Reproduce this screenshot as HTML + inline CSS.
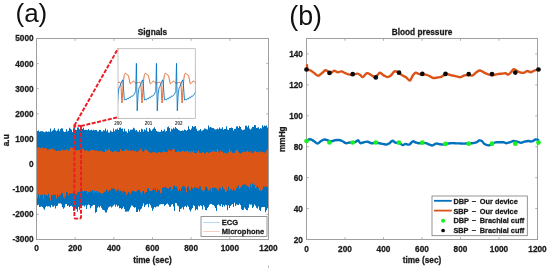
<!DOCTYPE html>
<html><head><meta charset="utf-8"><title>Signals and blood pressure</title>
<style>html,body{margin:0;padding:0;background:#fff}body{width:550px;height:268px;overflow:hidden}svg{display:block}</style>
</head><body>
<svg width="550" height="268" viewBox="0 0 550 268" font-family="'Liberation Sans', Arial, sans-serif">
<path d="M36.50 239.5v-2.3M36.50 38.5v2.3" stroke="#a0a0a0" stroke-width="0.8"/>
<text x="36.50" y="251.30" text-anchor="middle" font-size="8.25" font-weight="bold" fill="#1a1a1a" stroke="#1a1a1a" stroke-width="0.28" >0</text>
<path d="M75.17 239.5v-2.3M75.17 38.5v2.3" stroke="#a0a0a0" stroke-width="0.8"/>
<text x="75.17" y="251.30" text-anchor="middle" font-size="8.25" font-weight="bold" fill="#1a1a1a" stroke="#1a1a1a" stroke-width="0.28" >200</text>
<path d="M113.83 239.5v-2.3M113.83 38.5v2.3" stroke="#a0a0a0" stroke-width="0.8"/>
<text x="113.83" y="251.30" text-anchor="middle" font-size="8.25" font-weight="bold" fill="#1a1a1a" stroke="#1a1a1a" stroke-width="0.28" >400</text>
<path d="M152.50 239.5v-2.3M152.50 38.5v2.3" stroke="#a0a0a0" stroke-width="0.8"/>
<text x="152.50" y="251.30" text-anchor="middle" font-size="8.25" font-weight="bold" fill="#1a1a1a" stroke="#1a1a1a" stroke-width="0.28" >600</text>
<path d="M191.17 239.5v-2.3M191.17 38.5v2.3" stroke="#a0a0a0" stroke-width="0.8"/>
<text x="191.17" y="251.30" text-anchor="middle" font-size="8.25" font-weight="bold" fill="#1a1a1a" stroke="#1a1a1a" stroke-width="0.28" >800</text>
<path d="M229.83 239.5v-2.3M229.83 38.5v2.3" stroke="#a0a0a0" stroke-width="0.8"/>
<text x="229.83" y="251.30" text-anchor="middle" font-size="8.25" font-weight="bold" fill="#1a1a1a" stroke="#1a1a1a" stroke-width="0.28" >1000</text>
<path d="M268.50 239.5v-2.3M268.50 38.5v2.3" stroke="#a0a0a0" stroke-width="0.8"/>
<text x="268.50" y="251.30" text-anchor="middle" font-size="8.25" font-weight="bold" fill="#1a1a1a" stroke="#1a1a1a" stroke-width="0.28" >1200</text>
<path d="M36.5 239.50h2.3M268.5 239.50h-2.3" stroke="#a0a0a0" stroke-width="0.8"/>
<text x="33.60" y="242.40" text-anchor="end" font-size="8.25" font-weight="bold" fill="#1a1a1a" stroke="#1a1a1a" stroke-width="0.28" >-3000</text>
<path d="M36.5 214.38h2.3M268.5 214.38h-2.3" stroke="#a0a0a0" stroke-width="0.8"/>
<text x="33.60" y="217.28" text-anchor="end" font-size="8.25" font-weight="bold" fill="#1a1a1a" stroke="#1a1a1a" stroke-width="0.28" >-2000</text>
<path d="M36.5 189.25h2.3M268.5 189.25h-2.3" stroke="#a0a0a0" stroke-width="0.8"/>
<text x="33.60" y="192.15" text-anchor="end" font-size="8.25" font-weight="bold" fill="#1a1a1a" stroke="#1a1a1a" stroke-width="0.28" >-1000</text>
<path d="M36.5 164.12h2.3M268.5 164.12h-2.3" stroke="#a0a0a0" stroke-width="0.8"/>
<text x="33.60" y="167.03" text-anchor="end" font-size="8.25" font-weight="bold" fill="#1a1a1a" stroke="#1a1a1a" stroke-width="0.28" >0</text>
<path d="M36.5 139.00h2.3M268.5 139.00h-2.3" stroke="#a0a0a0" stroke-width="0.8"/>
<text x="33.60" y="141.90" text-anchor="end" font-size="8.25" font-weight="bold" fill="#1a1a1a" stroke="#1a1a1a" stroke-width="0.28" >1000</text>
<path d="M36.5 113.88h2.3M268.5 113.88h-2.3" stroke="#a0a0a0" stroke-width="0.8"/>
<text x="33.60" y="116.78" text-anchor="end" font-size="8.25" font-weight="bold" fill="#1a1a1a" stroke="#1a1a1a" stroke-width="0.28" >2000</text>
<path d="M36.5 88.75h2.3M268.5 88.75h-2.3" stroke="#a0a0a0" stroke-width="0.8"/>
<text x="33.60" y="91.65" text-anchor="end" font-size="8.25" font-weight="bold" fill="#1a1a1a" stroke="#1a1a1a" stroke-width="0.28" >3000</text>
<path d="M36.5 63.62h2.3M268.5 63.62h-2.3" stroke="#a0a0a0" stroke-width="0.8"/>
<text x="33.60" y="66.53" text-anchor="end" font-size="8.25" font-weight="bold" fill="#1a1a1a" stroke="#1a1a1a" stroke-width="0.28" >4000</text>
<path d="M36.5 38.50h2.3M268.5 38.50h-2.3" stroke="#a0a0a0" stroke-width="0.8"/>
<text x="33.60" y="41.40" text-anchor="end" font-size="8.25" font-weight="bold" fill="#1a1a1a" stroke="#1a1a1a" stroke-width="0.28" >5000</text>
<filter id="bl" x="-2%" y="-10%" width="104%" height="120%"><feGaussianBlur stdDeviation="0.42"/></filter>
<clipPath id="ac"><rect x="37.0" y="38.5" width="231.0" height="201.0"/></clipPath>
<g clip-path="url(#ac)"><g filter="url(#bl)">
<polygon fill="#0072BD" points="34.5,165.0 34.5,131.0 38.0,131.0 38.0,130.6 39.0,130.6 39.0,131.8 40.0,131.8 40.0,131.3 41.0,131.3 41.0,131.3 42.0,131.3 42.0,131.3 43.0,131.3 43.0,131.8 44.0,131.8 44.0,132.2 45.0,132.2 45.0,131.7 46.0,131.7 46.0,131.2 47.0,131.2 47.0,132.1 48.0,132.1 48.0,131.6 49.0,131.6 49.0,131.8 50.0,131.8 50.0,128.5 51.0,128.5 51.0,131.6 52.0,131.6 52.0,130.8 53.0,130.8 53.0,129.7 54.0,129.7 54.0,128.3 55.0,128.3 55.0,130.3 56.0,130.3 56.0,131.3 57.0,131.3 57.0,130.2 58.0,130.2 58.0,128.7 59.0,128.7 59.0,131.2 60.0,131.2 60.0,129.2 61.0,129.2 61.0,128.3 62.0,128.3 62.0,128.5 63.0,128.5 63.0,131.2 64.0,131.2 64.0,132.0 65.0,132.0 65.0,131.7 66.0,131.7 66.0,129.3 67.0,129.3 67.0,131.5 68.0,131.5 68.0,130.7 69.0,130.7 69.0,127.7 70.0,127.7 70.0,128.7 71.0,128.7 71.0,129.7 72.0,129.7 72.0,131.9 73.0,131.9 73.0,128.2 74.0,128.2 74.0,127.6 75.0,127.6 75.0,129.8 76.0,129.8 76.0,130.0 77.0,130.0 77.0,127.6 78.0,127.6 78.0,127.6 79.0,127.6 79.0,129.2 80.0,129.2 80.0,129.2 81.0,129.2 81.0,130.4 82.0,130.4 82.0,129.0 83.0,129.0 83.0,127.7 84.0,127.7 84.0,130.0 85.0,130.0 85.0,129.8 86.0,129.8 86.0,129.7 87.0,129.7 87.0,130.3 88.0,130.3 88.0,129.1 89.0,129.1 89.0,130.3 90.0,130.3 90.0,130.2 91.0,130.2 91.0,129.8 92.0,129.8 92.0,130.6 93.0,130.6 93.0,129.7 94.0,129.7 94.0,130.2 95.0,130.2 95.0,129.9 96.0,129.9 96.0,130.1 97.0,130.1 97.0,131.6 98.0,131.6 98.0,131.2 99.0,131.2 99.0,129.7 100.0,129.7 100.0,129.9 101.0,129.9 101.0,131.4 102.0,131.4 102.0,131.4 103.0,131.4 103.0,130.3 104.0,130.3 104.0,130.5 105.0,130.5 105.0,128.4 106.0,128.4 106.0,131.3 107.0,131.3 107.0,129.8 108.0,129.8 108.0,132.6 109.0,132.6 109.0,132.5 110.0,132.5 110.0,130.6 111.0,130.6 111.0,131.6 112.0,131.6 112.0,131.9 113.0,131.9 113.0,128.5 114.0,128.5 114.0,131.2 115.0,131.2 115.0,129.6 116.0,129.6 116.0,129.5 117.0,129.5 117.0,128.6 118.0,128.6 118.0,130.0 119.0,130.0 119.0,127.7 120.0,127.7 120.0,127.5 121.0,127.5 121.0,128.9 122.0,128.9 122.0,128.5 123.0,128.5 123.0,131.5 124.0,131.5 124.0,128.8 125.0,128.8 125.0,131.3 126.0,131.3 126.0,131.5 127.0,131.5 127.0,132.7 128.0,132.7 128.0,129.3 129.0,129.3 129.0,131.2 130.0,131.2 130.0,129.8 131.0,129.8 131.0,129.7 132.0,129.7 132.0,129.6 133.0,129.6 133.0,127.7 134.0,127.7 134.0,128.4 135.0,128.4 135.0,130.4 136.0,130.4 136.0,130.1 137.0,130.1 137.0,131.5 138.0,131.5 138.0,131.7 139.0,131.7 139.0,130.0 140.0,130.0 140.0,132.1 141.0,132.1 141.0,128.7 142.0,128.7 142.0,129.4 143.0,129.4 143.0,131.6 144.0,131.6 144.0,129.2 145.0,129.2 145.0,130.3 146.0,130.3 146.0,127.8 147.0,127.8 147.0,131.3 148.0,131.3 148.0,131.8 149.0,131.8 149.0,128.1 150.0,128.1 150.0,129.4 151.0,129.4 151.0,131.0 152.0,131.0 152.0,129.5 153.0,129.5 153.0,128.6 154.0,128.6 154.0,127.3 155.0,127.3 155.0,129.1 156.0,129.1 156.0,131.1 157.0,131.1 157.0,131.5 158.0,131.5 158.0,131.8 159.0,131.8 159.0,132.1 160.0,132.1 160.0,131.8 161.0,131.8 161.0,129.7 162.0,129.7 162.0,131.3 163.0,131.3 163.0,130.8 164.0,130.8 164.0,129.3 165.0,129.3 165.0,131.4 166.0,131.4 166.0,131.1 167.0,131.1 167.0,127.3 168.0,127.3 168.0,126.5 169.0,126.5 169.0,127.9 170.0,127.9 170.0,131.6 171.0,131.6 171.0,128.7 172.0,128.7 172.0,129.6 173.0,129.6 173.0,127.8 174.0,127.8 174.0,128.7 175.0,128.7 175.0,127.1 176.0,127.1 176.0,128.2 177.0,128.2 177.0,128.9 178.0,128.9 178.0,129.9 179.0,129.9 179.0,130.6 180.0,130.6 180.0,131.1 181.0,131.1 181.0,131.0 182.0,131.0 182.0,130.6 183.0,130.6 183.0,130.7 184.0,130.7 184.0,129.5 185.0,129.5 185.0,129.9 186.0,129.9 186.0,130.8 187.0,130.8 187.0,130.1 188.0,130.1 188.0,126.2 189.0,126.2 189.0,129.0 190.0,129.0 190.0,129.9 191.0,129.9 191.0,128.4 192.0,128.4 192.0,126.0 193.0,126.0 193.0,127.1 194.0,127.1 194.0,126.6 195.0,126.6 195.0,125.9 196.0,125.9 196.0,128.7 197.0,128.7 197.0,130.9 198.0,130.9 198.0,130.6 199.0,130.6 199.0,130.2 200.0,130.2 200.0,129.0 201.0,129.0 201.0,130.7 202.0,130.7 202.0,130.4 203.0,130.4 203.0,129.8 204.0,129.8 204.0,128.4 205.0,128.4 205.0,128.7 206.0,128.7 206.0,129.3 207.0,129.3 207.0,129.6 208.0,129.6 208.0,125.6 209.0,125.6 209.0,127.4 210.0,127.4 210.0,127.0 211.0,127.0 211.0,127.5 212.0,127.5 212.0,127.9 213.0,127.9 213.0,128.1 214.0,128.1 214.0,128.9 215.0,128.9 215.0,129.5 216.0,129.5 216.0,129.3 217.0,129.3 217.0,128.4 218.0,128.4 218.0,129.2 219.0,129.2 219.0,127.4 220.0,127.4 220.0,128.7 221.0,128.7 221.0,128.7 222.0,128.7 222.0,127.3 223.0,127.3 223.0,129.7 224.0,129.7 224.0,129.1 225.0,129.1 225.0,128.9 226.0,128.9 226.0,126.2 227.0,126.2 227.0,129.4 228.0,129.4 228.0,130.0 229.0,130.0 229.0,128.1 230.0,128.1 230.0,128.0 231.0,128.0 231.0,127.6 232.0,127.6 232.0,127.9 233.0,127.9 233.0,130.4 234.0,130.4 234.0,129.0 235.0,129.0 235.0,128.7 236.0,128.7 236.0,126.5 237.0,126.5 237.0,126.2 238.0,126.2 238.0,127.9 239.0,127.9 239.0,126.1 240.0,126.1 240.0,127.0 241.0,127.0 241.0,129.3 242.0,129.3 242.0,130.2 243.0,130.2 243.0,129.8 244.0,129.8 244.0,129.5 245.0,129.5 245.0,125.8 246.0,125.8 246.0,125.8 247.0,125.8 247.0,127.2 248.0,127.2 248.0,125.4 249.0,125.4 249.0,128.6 250.0,128.6 250.0,129.4 251.0,129.4 251.0,128.4 252.0,128.4 252.0,126.7 253.0,126.7 253.0,127.1 254.0,127.1 254.0,125.1 255.0,125.1 255.0,125.2 256.0,125.2 256.0,128.0 257.0,128.0 257.0,127.7 258.0,127.7 258.0,127.3 259.0,127.3 259.0,128.9 260.0,128.9 260.0,127.9 261.0,127.9 261.0,128.6 262.0,128.6 262.0,125.3 263.0,125.3 263.0,126.8 264.0,126.8 264.0,125.5 265.0,125.5 265.0,125.9 266.0,125.9 266.0,125.6 267.0,125.6 267.0,127.5 268.0,127.5 270.5,165.0 268.0,208.2 267.0,208.2 267.0,210.3 266.0,210.3 266.0,212.3 265.0,212.3 265.0,207.0 264.0,207.0 264.0,206.9 263.0,206.9 263.0,207.1 262.0,207.1 262.0,207.6 261.0,207.6 261.0,210.9 260.0,210.9 260.0,209.8 259.0,209.8 259.0,206.5 258.0,206.5 258.0,208.5 257.0,208.5 257.0,207.8 256.0,207.8 256.0,205.7 255.0,205.7 255.0,204.6 254.0,204.6 254.0,206.8 253.0,206.8 253.0,207.9 252.0,207.9 252.0,204.6 251.0,204.6 251.0,204.7 250.0,204.7 250.0,204.3 249.0,204.3 249.0,207.7 248.0,207.7 248.0,210.3 247.0,210.3 247.0,209.9 246.0,209.9 246.0,208.8 245.0,208.8 245.0,207.4 244.0,207.4 244.0,209.8 243.0,209.8 243.0,210.1 242.0,210.1 242.0,209.3 241.0,209.3 241.0,205.0 240.0,205.0 240.0,203.7 239.0,203.7 239.0,205.1 238.0,205.1 238.0,204.8 237.0,204.8 237.0,204.6 236.0,204.6 236.0,206.0 235.0,206.0 235.0,202.8 234.0,202.8 234.0,207.0 233.0,207.0 233.0,204.1 232.0,204.1 232.0,204.7 231.0,204.7 231.0,206.1 230.0,206.1 230.0,207.9 229.0,207.9 229.0,205.3 228.0,205.3 228.0,210.3 227.0,210.3 227.0,205.2 226.0,205.2 226.0,204.8 225.0,204.8 225.0,206.6 224.0,206.6 224.0,204.9 223.0,204.9 223.0,207.0 222.0,207.0 222.0,204.1 221.0,204.1 221.0,206.3 220.0,206.3 220.0,205.6 219.0,205.6 219.0,204.4 218.0,204.4 218.0,205.0 217.0,205.0 217.0,211.1 216.0,211.1 216.0,208.0 215.0,208.0 215.0,206.3 214.0,206.3 214.0,205.0 213.0,205.0 213.0,204.7 212.0,204.7 212.0,204.1 211.0,204.1 211.0,204.1 210.0,204.1 210.0,204.7 209.0,204.7 209.0,206.8 208.0,206.8 208.0,208.0 207.0,208.0 207.0,210.2 206.0,210.2 206.0,209.9 205.0,209.9 205.0,206.8 204.0,206.8 204.0,205.3 203.0,205.3 203.0,209.5 202.0,209.5 202.0,206.1 201.0,206.1 201.0,205.2 200.0,205.2 200.0,206.4 199.0,206.4 199.0,205.7 198.0,205.7 198.0,209.8 197.0,209.8 197.0,209.0 196.0,209.0 196.0,210.3 195.0,210.3 195.0,206.1 194.0,206.1 194.0,205.2 193.0,205.2 193.0,208.1 192.0,208.1 192.0,209.6 191.0,209.6 191.0,211.5 190.0,211.5 190.0,209.7 189.0,209.7 189.0,206.8 188.0,206.8 188.0,205.5 187.0,205.5 187.0,207.2 186.0,207.2 186.0,205.9 185.0,205.9 185.0,206.7 184.0,206.7 184.0,209.5 183.0,209.5 183.0,207.3 182.0,207.3 182.0,208.4 181.0,208.4 181.0,208.9 180.0,208.9 180.0,211.7 179.0,211.7 179.0,206.2 178.0,206.2 178.0,205.5 177.0,205.5 177.0,203.2 176.0,203.2 176.0,202.9 175.0,202.9 175.0,210.9 174.0,210.9 174.0,206.4 173.0,206.4 173.0,204.0 172.0,204.0 172.0,204.7 171.0,204.7 171.0,206.8 170.0,206.8 170.0,206.7 169.0,206.7 169.0,204.7 168.0,204.7 168.0,203.5 167.0,203.5 167.0,204.0 166.0,204.0 166.0,204.9 165.0,204.9 165.0,205.9 164.0,205.9 164.0,204.1 163.0,204.1 163.0,204.3 162.0,204.3 162.0,204.0 161.0,204.0 161.0,204.2 160.0,204.2 160.0,204.7 159.0,204.7 159.0,206.5 158.0,206.5 158.0,206.4 157.0,206.4 157.0,206.4 156.0,206.4 156.0,207.4 155.0,207.4 155.0,206.9 154.0,206.9 154.0,208.8 153.0,208.8 153.0,210.7 152.0,210.7 152.0,207.8 151.0,207.8 151.0,205.3 150.0,205.3 150.0,203.7 149.0,203.7 149.0,207.3 148.0,207.3 148.0,203.9 147.0,203.9 147.0,204.4 146.0,204.4 146.0,205.2 145.0,205.2 145.0,207.0 144.0,207.0 144.0,203.4 143.0,203.4 143.0,205.9 142.0,205.9 142.0,208.4 141.0,208.4 141.0,209.5 140.0,209.5 140.0,211.6 139.0,211.6 139.0,209.6 138.0,209.6 138.0,211.9 137.0,211.9 137.0,211.9 136.0,211.9 136.0,207.3 135.0,207.3 135.0,207.8 134.0,207.8 134.0,207.1 133.0,207.1 133.0,205.8 132.0,205.8 132.0,205.5 131.0,205.5 131.0,207.4 130.0,207.4 130.0,209.8 129.0,209.8 129.0,211.5 128.0,211.5 128.0,211.6 127.0,211.6 127.0,211.6 126.0,211.6 126.0,211.8 125.0,211.8 125.0,209.0 124.0,209.0 124.0,206.7 123.0,206.7 123.0,208.3 122.0,208.3 122.0,209.3 121.0,209.3 121.0,208.1 120.0,208.1 120.0,208.2 119.0,208.2 119.0,205.8 118.0,205.8 118.0,206.6 117.0,206.6 117.0,204.7 116.0,204.7 116.0,206.7 115.0,206.7 115.0,204.5 114.0,204.5 114.0,205.6 113.0,205.6 113.0,206.6 112.0,206.6 112.0,207.6 111.0,207.6 111.0,206.3 110.0,206.3 110.0,206.7 109.0,206.7 109.0,207.6 108.0,207.6 108.0,209.7 107.0,209.7 107.0,212.5 106.0,212.5 106.0,212.6 105.0,212.6 105.0,210.6 104.0,210.6 104.0,210.0 103.0,210.0 103.0,209.5 102.0,209.5 102.0,207.7 101.0,207.7 101.0,206.1 100.0,206.1 100.0,207.5 99.0,207.5 99.0,206.6 98.0,206.6 98.0,207.7 97.0,207.7 97.0,211.9 96.0,211.9 96.0,212.7 95.0,212.7 95.0,205.1 94.0,205.1 94.0,205.1 93.0,205.1 93.0,205.7 92.0,205.7 92.0,206.4 91.0,206.4 91.0,208.2 90.0,208.2 90.0,205.2 89.0,205.2 89.0,204.6 88.0,204.6 88.0,205.3 87.0,205.3 87.0,209.0 86.0,209.0 86.0,205.2 85.0,205.2 85.0,206.6 84.0,206.6 84.0,205.6 83.0,205.6 83.0,205.7 82.0,205.7 82.0,206.4 81.0,206.4 81.0,206.6 80.0,206.6 80.0,209.7 79.0,209.7 79.0,207.1 78.0,207.1 78.0,211.8 77.0,211.8 77.0,209.2 76.0,209.2 76.0,208.5 75.0,208.5 75.0,210.4 74.0,210.4 74.0,210.9 73.0,210.9 73.0,206.7 72.0,206.7 72.0,205.8 71.0,205.8 71.0,206.1 70.0,206.1 70.0,206.9 69.0,206.9 69.0,205.6 68.0,205.6 68.0,205.9 67.0,205.9 67.0,204.0 66.0,204.0 66.0,204.3 65.0,204.3 65.0,207.6 64.0,207.6 64.0,208.7 63.0,208.7 63.0,207.2 62.0,207.2 62.0,204.2 61.0,204.2 61.0,203.3 60.0,203.3 60.0,203.6 59.0,203.6 59.0,203.6 58.0,203.6 58.0,205.8 57.0,205.8 57.0,205.9 56.0,205.9 56.0,208.6 55.0,208.6 55.0,205.5 54.0,205.5 54.0,206.8 53.0,206.8 53.0,206.4 52.0,206.4 52.0,205.1 51.0,205.1 51.0,207.4 50.0,207.4 50.0,206.5 49.0,206.5 49.0,206.3 48.0,206.3 48.0,206.4 47.0,206.4 47.0,206.0 46.0,206.0 46.0,207.2 45.0,207.2 45.0,209.8 44.0,209.8 44.0,208.6 43.0,208.6 43.0,207.0 42.0,207.0 42.0,206.5 41.0,206.5 41.0,206.8 40.0,206.8 40.0,207.0 39.0,207.0 39.0,204.8 38.0,204.8 38.0,205.2 37.0,205.2"/>
<polygon fill="#DB5417" points="34.5,170.0 37.0,148.0 38.0,148.0 38.0,147.2 39.0,147.2 39.0,147.6 40.0,147.6 40.0,148.2 41.0,148.2 41.0,147.6 42.0,147.6 42.0,147.6 43.0,147.6 43.0,148.9 44.0,148.9 44.0,147.9 45.0,147.9 45.0,147.9 46.0,147.9 46.0,148.5 47.0,148.5 47.0,149.8 48.0,149.8 48.0,149.4 49.0,149.4 49.0,149.0 50.0,149.0 50.0,149.2 51.0,149.2 51.0,148.3 52.0,148.3 52.0,148.6 53.0,148.6 53.0,149.9 54.0,149.9 54.0,149.5 55.0,149.5 55.0,150.4 56.0,150.4 56.0,151.0 57.0,151.0 57.0,151.1 58.0,151.1 58.0,150.6 59.0,150.6 59.0,150.6 60.0,150.6 60.0,150.9 61.0,150.9 61.0,150.2 62.0,150.2 62.0,149.4 63.0,149.4 63.0,150.4 64.0,150.4 64.0,150.2 65.0,150.2 65.0,150.3 66.0,150.3 66.0,149.4 67.0,149.4 67.0,149.2 68.0,149.2 68.0,151.0 69.0,151.0 69.0,149.3 70.0,149.3 70.0,147.7 71.0,147.7 71.0,147.5 72.0,147.5 72.0,148.1 73.0,148.1 73.0,148.0 74.0,148.0 74.0,149.4 75.0,149.4 75.0,150.6 76.0,150.6 76.0,150.5 77.0,150.5 77.0,150.1 78.0,150.1 78.0,150.0 79.0,150.0 79.0,150.4 80.0,150.4 80.0,150.3 81.0,150.3 81.0,150.1 82.0,150.1 82.0,148.4 83.0,148.4 83.0,149.1 84.0,149.1 84.0,150.5 85.0,150.5 85.0,151.1 86.0,151.1 86.0,150.3 87.0,150.3 87.0,150.4 88.0,150.4 88.0,151.2 89.0,151.2 89.0,151.0 90.0,151.0 90.0,150.4 91.0,150.4 91.0,149.4 92.0,149.4 92.0,150.0 93.0,150.0 93.0,149.9 94.0,149.9 94.0,150.2 95.0,150.2 95.0,150.7 96.0,150.7 96.0,150.6 97.0,150.6 97.0,151.1 98.0,151.1 98.0,150.9 99.0,150.9 99.0,151.4 100.0,151.4 100.0,150.8 101.0,150.8 101.0,151.0 102.0,151.0 102.0,151.6 103.0,151.6 103.0,152.2 104.0,152.2 104.0,152.0 105.0,152.0 105.0,149.0 106.0,149.0 106.0,150.8 107.0,150.8 107.0,149.5 108.0,149.5 108.0,149.4 109.0,149.4 109.0,149.3 110.0,149.3 110.0,150.9 111.0,150.9 111.0,151.5 112.0,151.5 112.0,152.2 113.0,152.2 113.0,152.0 114.0,152.0 114.0,151.1 115.0,151.1 115.0,150.7 116.0,150.7 116.0,151.5 117.0,151.5 117.0,152.3 118.0,152.3 118.0,151.8 119.0,151.8 119.0,152.1 120.0,152.1 120.0,149.3 121.0,149.3 121.0,150.4 122.0,150.4 122.0,150.9 123.0,150.9 123.0,150.6 124.0,150.6 124.0,150.9 125.0,150.9 125.0,148.8 126.0,148.8 126.0,149.5 127.0,149.5 127.0,150.2 128.0,150.2 128.0,150.7 129.0,150.7 129.0,149.8 130.0,149.8 130.0,150.5 131.0,150.5 131.0,151.0 132.0,151.0 132.0,150.1 133.0,150.1 133.0,151.2 134.0,151.2 134.0,151.0 135.0,151.0 135.0,150.4 136.0,150.4 136.0,151.5 137.0,151.5 137.0,151.9 138.0,151.9 138.0,150.8 139.0,150.8 139.0,150.3 140.0,150.3 140.0,148.4 141.0,148.4 141.0,149.4 142.0,149.4 142.0,151.2 143.0,151.2 143.0,152.2 144.0,152.2 144.0,150.6 145.0,150.6 145.0,148.7 146.0,148.7 146.0,149.7 147.0,149.7 147.0,150.6 148.0,150.6 148.0,151.4 149.0,151.4 149.0,152.3 150.0,152.3 150.0,152.7 151.0,152.7 151.0,152.9 152.0,152.9 152.0,151.7 153.0,151.7 153.0,152.6 154.0,152.6 154.0,152.6 155.0,152.6 155.0,151.9 156.0,151.9 156.0,152.9 157.0,152.9 157.0,153.1 158.0,153.1 158.0,151.9 159.0,151.9 159.0,152.0 160.0,152.0 160.0,152.6 161.0,152.6 161.0,153.1 162.0,153.1 162.0,152.1 163.0,152.1 163.0,150.4 164.0,150.4 164.0,152.0 165.0,152.0 165.0,152.2 166.0,152.2 166.0,152.1 167.0,152.1 167.0,152.1 168.0,152.1 168.0,149.4 169.0,149.4 169.0,151.0 170.0,151.0 170.0,150.1 171.0,150.1 171.0,150.9 172.0,150.9 172.0,149.5 173.0,149.5 173.0,148.5 174.0,148.5 174.0,149.5 175.0,149.5 175.0,152.1 176.0,152.1 176.0,152.0 177.0,152.0 177.0,150.4 178.0,150.4 178.0,151.8 179.0,151.8 179.0,151.2 180.0,151.2 180.0,152.0 181.0,152.0 181.0,151.3 182.0,151.3 182.0,150.9 183.0,150.9 183.0,151.1 184.0,151.1 184.0,151.7 185.0,151.7 185.0,150.9 186.0,150.9 186.0,151.2 187.0,151.2 187.0,150.8 188.0,150.8 188.0,151.7 189.0,151.7 189.0,151.1 190.0,151.1 190.0,152.7 191.0,152.7 191.0,151.2 192.0,151.2 192.0,151.7 193.0,151.7 193.0,150.2 194.0,150.2 194.0,152.9 195.0,152.9 195.0,153.3 196.0,153.3 196.0,153.0 197.0,153.0 197.0,151.6 198.0,151.6 198.0,150.7 199.0,150.7 199.0,152.6 200.0,152.6 200.0,153.0 201.0,153.0 201.0,153.3 202.0,153.3 202.0,152.2 203.0,152.2 203.0,152.0 204.0,152.0 204.0,153.5 205.0,153.5 205.0,153.3 206.0,153.3 206.0,152.1 207.0,152.1 207.0,152.1 208.0,152.1 208.0,152.9 209.0,152.9 209.0,152.4 210.0,152.4 210.0,152.0 211.0,152.0 211.0,151.5 212.0,151.5 212.0,151.4 213.0,151.4 213.0,150.2 214.0,150.2 214.0,151.7 215.0,151.7 215.0,151.6 216.0,151.6 216.0,151.8 217.0,151.8 217.0,149.1 218.0,149.1 218.0,151.4 219.0,151.4 219.0,152.6 220.0,152.6 220.0,150.5 221.0,150.5 221.0,151.8 222.0,151.8 222.0,151.4 223.0,151.4 223.0,153.1 224.0,153.1 224.0,153.1 225.0,153.1 225.0,152.2 226.0,152.2 226.0,153.4 227.0,153.4 227.0,153.0 228.0,153.0 228.0,152.2 229.0,152.2 229.0,149.0 230.0,149.0 230.0,151.5 231.0,151.5 231.0,151.0 232.0,151.0 232.0,152.8 233.0,152.8 233.0,152.8 234.0,152.8 234.0,153.2 235.0,153.2 235.0,151.0 236.0,151.0 236.0,150.3 237.0,150.3 237.0,149.7 238.0,149.7 238.0,152.1 239.0,152.1 239.0,153.0 240.0,153.0 240.0,153.5 241.0,153.5 241.0,153.0 242.0,153.0 242.0,152.3 243.0,152.3 243.0,151.8 244.0,151.8 244.0,151.8 245.0,151.8 245.0,151.7 246.0,151.7 246.0,151.4 247.0,151.4 247.0,150.5 248.0,150.5 248.0,151.7 249.0,151.7 249.0,152.0 250.0,152.0 250.0,151.2 251.0,151.2 251.0,152.6 252.0,152.6 252.0,152.9 253.0,152.9 253.0,152.6 254.0,152.6 254.0,151.2 255.0,151.2 255.0,151.1 256.0,151.1 256.0,152.1 257.0,152.1 257.0,152.2 258.0,152.2 258.0,152.3 259.0,152.3 259.0,151.5 260.0,151.5 260.0,151.5 261.0,151.5 261.0,152.3 262.0,152.3 262.0,151.7 263.0,151.7 263.0,152.3 264.0,152.3 264.0,152.7 265.0,152.7 265.0,152.0 266.0,152.0 266.0,150.4 267.0,150.4 267.0,149.2 268.0,149.2 270.5,170.0 268.0,187.3 267.0,187.3 267.0,186.8 266.0,186.8 266.0,186.1 265.0,186.1 265.0,186.8 264.0,186.8 264.0,186.3 263.0,186.3 263.0,189.3 262.0,189.3 262.0,190.7 261.0,190.7 261.0,190.6 260.0,190.6 260.0,190.7 259.0,190.7 259.0,187.7 258.0,187.7 258.0,185.8 257.0,185.8 257.0,187.2 256.0,187.2 256.0,187.9 255.0,187.9 255.0,184.8 254.0,184.8 254.0,184.4 253.0,184.4 253.0,183.2 252.0,183.2 252.0,187.2 251.0,187.2 251.0,184.3 250.0,184.3 250.0,188.5 249.0,188.5 249.0,186.8 248.0,186.8 248.0,185.8 247.0,185.8 247.0,185.7 246.0,185.7 246.0,184.5 245.0,184.5 245.0,184.5 244.0,184.5 244.0,184.3 243.0,184.3 243.0,184.9 242.0,184.9 242.0,186.5 241.0,186.5 241.0,187.5 240.0,187.5 240.0,188.9 239.0,188.9 239.0,185.5 238.0,185.5 238.0,186.6 237.0,186.6 237.0,187.9 236.0,187.9 236.0,190.3 235.0,190.3 235.0,190.5 234.0,190.5 234.0,188.7 233.0,188.7 233.0,190.6 232.0,190.6 232.0,189.4 231.0,189.4 231.0,188.8 230.0,188.8 230.0,190.5 229.0,190.5 229.0,186.7 228.0,186.7 228.0,189.8 227.0,189.8 227.0,191.2 226.0,191.2 226.0,192.1 225.0,192.1 225.0,189.6 224.0,189.6 224.0,188.5 223.0,188.5 223.0,186.7 222.0,186.7 222.0,190.0 221.0,190.0 221.0,187.8 220.0,187.8 220.0,188.3 219.0,188.3 219.0,190.8 218.0,190.8 218.0,189.5 217.0,189.5 217.0,188.6 216.0,188.6 216.0,187.9 215.0,187.9 215.0,187.6 214.0,187.6 214.0,187.7 213.0,187.7 213.0,187.8 212.0,187.8 212.0,191.4 211.0,191.4 211.0,188.5 210.0,188.5 210.0,190.5 209.0,190.5 209.0,190.6 208.0,190.6 208.0,188.5 207.0,188.5 207.0,186.7 206.0,186.7 206.0,187.1 205.0,187.1 205.0,190.0 204.0,190.0 204.0,192.0 203.0,192.0 203.0,190.5 202.0,190.5 202.0,190.0 201.0,190.0 201.0,186.4 200.0,186.4 200.0,186.6 199.0,186.6 199.0,189.0 198.0,189.0 198.0,187.6 197.0,187.6 197.0,187.9 196.0,187.9 196.0,187.3 195.0,187.3 195.0,187.3 194.0,187.3 194.0,187.9 193.0,187.9 193.0,188.4 192.0,188.4 192.0,187.1 191.0,187.1 191.0,190.5 190.0,190.5 190.0,189.4 189.0,189.4 189.0,186.5 188.0,186.5 188.0,186.4 187.0,186.4 187.0,192.4 186.0,192.4 186.0,188.0 185.0,188.0 185.0,186.5 184.0,186.5 184.0,185.8 183.0,185.8 183.0,186.4 182.0,186.4 182.0,188.2 181.0,188.2 181.0,191.1 180.0,191.1 180.0,189.1 179.0,189.1 179.0,191.0 178.0,191.0 178.0,188.4 177.0,188.4 177.0,186.5 176.0,186.5 176.0,186.8 175.0,186.8 175.0,185.4 174.0,185.4 174.0,186.2 173.0,186.2 173.0,188.9 172.0,188.9 172.0,190.7 171.0,190.7 171.0,186.7 170.0,186.7 170.0,187.4 169.0,187.4 169.0,188.4 168.0,188.4 168.0,188.2 167.0,188.2 167.0,188.1 166.0,188.1 166.0,186.7 165.0,186.7 165.0,187.3 164.0,187.3 164.0,187.0 163.0,187.0 163.0,188.0 162.0,188.0 162.0,192.8 161.0,192.8 161.0,193.3 160.0,193.3 160.0,190.2 159.0,190.2 159.0,189.9 158.0,189.9 158.0,189.1 157.0,189.1 157.0,192.1 156.0,192.1 156.0,187.9 155.0,187.9 155.0,190.3 154.0,190.3 154.0,187.8 153.0,187.8 153.0,190.1 152.0,190.1 152.0,191.2 151.0,191.2 151.0,190.9 150.0,190.9 150.0,190.9 149.0,190.9 149.0,187.9 148.0,187.9 148.0,189.1 147.0,189.1 147.0,191.9 146.0,191.9 146.0,192.2 145.0,192.2 145.0,193.6 144.0,193.6 144.0,191.0 143.0,191.0 143.0,191.1 142.0,191.1 142.0,194.3 141.0,194.3 141.0,192.2 140.0,192.2 140.0,189.8 139.0,189.8 139.0,189.9 138.0,189.9 138.0,190.4 137.0,190.4 137.0,191.5 136.0,191.5 136.0,192.0 135.0,192.0 135.0,191.2 134.0,191.2 134.0,191.3 133.0,191.3 133.0,190.7 132.0,190.7 132.0,191.6 131.0,191.6 131.0,194.2 130.0,194.2 130.0,192.4 129.0,192.4 129.0,192.1 128.0,192.1 128.0,193.3 127.0,193.3 127.0,195.1 126.0,195.1 126.0,191.7 125.0,191.7 125.0,191.8 124.0,191.8 124.0,190.5 123.0,190.5 123.0,192.5 122.0,192.5 122.0,191.1 121.0,191.1 121.0,190.8 120.0,190.8 120.0,191.3 119.0,191.3 119.0,189.5 118.0,189.5 118.0,189.5 117.0,189.5 117.0,191.6 116.0,191.6 116.0,189.7 115.0,189.7 115.0,189.2 114.0,189.2 114.0,188.0 113.0,188.0 113.0,188.4 112.0,188.4 112.0,188.3 111.0,188.3 111.0,190.2 110.0,190.2 110.0,189.9 109.0,189.9 109.0,191.7 108.0,191.7 108.0,190.6 107.0,190.6 107.0,189.5 106.0,189.5 106.0,191.4 105.0,191.4 105.0,191.7 104.0,191.7 104.0,192.7 103.0,192.7 103.0,193.5 102.0,193.5 102.0,193.7 101.0,193.7 101.0,193.0 100.0,193.0 100.0,192.4 99.0,192.4 99.0,191.7 98.0,191.7 98.0,193.6 97.0,193.6 97.0,191.1 96.0,191.1 96.0,192.6 95.0,192.6 95.0,190.8 94.0,190.8 94.0,193.2 93.0,193.2 93.0,190.0 92.0,190.0 92.0,191.2 91.0,191.2 91.0,191.5 90.0,191.5 90.0,192.6 89.0,192.6 89.0,191.9 88.0,191.9 88.0,193.5 87.0,193.5 87.0,191.1 86.0,191.1 86.0,191.2 85.0,191.2 85.0,191.1 84.0,191.1 84.0,192.0 83.0,192.0 83.0,190.8 82.0,190.8 82.0,190.4 81.0,190.4 81.0,190.1 80.0,190.1 80.0,191.7 79.0,191.7 79.0,191.7 78.0,191.7 78.0,192.6 77.0,192.6 77.0,195.0 76.0,195.0 76.0,193.4 75.0,193.4 75.0,193.1 74.0,193.1 74.0,192.9 73.0,192.9 73.0,193.4 72.0,193.4 72.0,193.2 71.0,193.2 71.0,193.8 70.0,193.8 70.0,193.6 69.0,193.6 69.0,195.5 68.0,195.5 68.0,192.6 67.0,192.6 67.0,192.1 66.0,192.1 66.0,196.1 65.0,196.1 65.0,198.2 64.0,198.2 64.0,197.0 63.0,197.0 63.0,192.9 62.0,192.9 62.0,192.8 61.0,192.8 61.0,195.2 60.0,195.2 60.0,194.7 59.0,194.7 59.0,196.8 58.0,196.8 58.0,194.4 57.0,194.4 57.0,198.4 56.0,198.4 56.0,194.5 55.0,194.5 55.0,195.1 54.0,195.1 54.0,194.5 53.0,194.5 53.0,195.2 52.0,195.2 52.0,195.0 51.0,195.0 51.0,200.4 50.0,200.4 50.0,197.2 49.0,197.2 49.0,193.8 48.0,193.8 48.0,195.7 47.0,195.7 47.0,195.2 46.0,195.2 46.0,195.2 45.0,195.2 45.0,194.5 44.0,194.5 44.0,199.0 43.0,199.0 43.0,194.4 42.0,194.4 42.0,195.3 41.0,195.3 41.0,195.1 40.0,195.1 40.0,197.8 39.0,197.8 39.0,194.6 38.0,194.6 38.0,198.3 37.0,198.3"/>
</g></g>
<rect x="36.5" y="38.5" width="232.0" height="201.0" fill="none" stroke="#a0a0a0" stroke-width="1"/>
<text x="152.50" y="34.60" text-anchor="middle" font-size="8.25" font-weight="bold" fill="#1a1a1a" stroke="#1a1a1a" stroke-width="0.28" >Signals</text>
<text x="152.50" y="262.80" text-anchor="middle" font-size="8.25" font-weight="bold" fill="#1a1a1a" stroke="#1a1a1a" stroke-width="0.28" >time (sec)</text>
<text x="0.00" y="0.00" text-anchor="middle" font-size="8.25" font-weight="bold" fill="#1a1a1a" stroke="#1a1a1a" stroke-width="0.28" transform="translate(9.1 140.3) rotate(-90)">a.u</text>
<rect x="118" y="48.7" width="77.30000000000001" height="69.8" fill="#fff" stroke="#b4b4b4" stroke-width="0.8"/>
<clipPath id="ic"><rect x="118" y="48.7" width="77.30000000000001" height="69.8"/></clipPath>
<g clip-path="url(#ic)" fill="none" stroke-linejoin="round">
<path stroke="#DB5417" stroke-width="0.95" opacity="0.9" d="M116.4 83.2C116.6 83.1 117.9 82.6 118.4 82.5C118.8 82.4 119.6 81.9 120.0 82.3C120.3 82.7 120.7 83.4 121.0 86.0C121.2 88.6 121.7 102.5 122.0 103.0C122.2 103.5 122.5 93.2 122.8 90.0C123.0 86.8 123.7 79.1 124.0 77.0C124.2 74.9 124.7 73.8 125.0 73.4C125.2 73.0 126.0 73.8 126.4 74.0C126.7 74.2 127.6 74.7 127.9 75.0C128.1 75.3 128.4 75.9 128.6 76.5C128.7 77.1 129.1 79.1 129.4 80.0C129.6 80.9 130.0 83.5 130.3 83.8C130.6 84.1 131.5 82.9 131.9 82.5C132.2 82.1 132.9 80.8 133.2 80.8C133.6 80.8 134.5 82.2 134.9 82.5C135.2 82.8 136.0 83.2 136.4 83.2C136.8 83.2 138.0 82.6 138.4 82.5C138.8 82.4 139.7 81.9 140.0 82.3C140.3 82.7 140.8 83.4 141.0 86.0C141.2 88.6 141.8 102.5 142.0 103.0C142.2 103.5 142.6 93.2 142.8 90.0C143.1 86.8 143.7 79.1 144.0 77.0C144.3 74.9 144.7 73.8 145.0 73.4C145.3 73.0 146.0 73.8 146.4 74.0C146.8 74.2 147.6 74.7 147.9 75.0C148.2 75.3 148.4 75.9 148.6 76.5C148.8 77.1 149.2 79.1 149.4 80.0C149.6 80.9 150.0 83.5 150.3 83.8C150.7 84.1 151.5 82.9 151.9 82.5C152.3 82.1 152.9 80.8 153.3 80.8C153.7 80.8 154.5 82.2 154.9 82.5C155.3 82.8 156.0 83.2 156.5 83.2C156.9 83.2 158.0 82.6 158.5 82.5C158.9 82.4 159.7 81.9 160.1 82.3C160.4 82.7 160.8 83.4 161.1 86.0C161.3 88.6 161.8 102.5 162.1 103.0C162.3 103.5 162.6 93.2 162.9 90.0C163.1 86.8 163.8 79.1 164.1 77.0C164.3 74.9 164.8 73.8 165.1 73.4C165.4 73.0 166.1 73.8 166.5 74.0C166.8 74.2 167.7 74.7 168.0 75.0C168.2 75.3 168.5 75.9 168.7 76.5C168.8 77.1 169.2 79.1 169.5 80.0C169.7 80.9 170.1 83.5 170.4 83.8C170.7 84.1 171.6 82.9 172.0 82.5C172.3 82.1 173.0 80.8 173.4 80.8C173.7 80.8 174.6 82.2 175.0 82.5C175.3 82.8 176.1 83.2 176.5 83.2C176.9 83.2 178.1 82.6 178.5 82.5C178.9 82.4 179.8 81.9 180.1 82.3C180.4 82.7 180.8 83.4 181.1 86.0C181.3 88.6 181.9 102.5 182.1 103.0C182.3 103.5 182.7 93.2 182.9 90.0C183.2 86.8 183.8 79.1 184.1 77.0C184.4 74.9 184.8 73.8 185.1 73.4C185.4 73.0 186.1 73.8 186.5 74.0C186.9 74.2 187.7 74.7 188.0 75.0C188.3 75.3 188.5 75.9 188.7 76.5C188.9 77.1 189.3 79.1 189.5 80.0C189.7 80.9 190.1 83.5 190.4 83.8C190.8 84.1 191.6 82.9 192.0 82.5C192.4 82.1 193.0 80.8 193.4 80.8C193.8 80.8 194.6 82.2 195.0 82.5C195.4 82.8 196.1 83.2 196.6 83.2C197.0 83.2 198.1 82.6 198.6 82.5C199.0 82.4 199.8 81.9 200.2 82.3C200.5 82.7 200.9 83.4 201.2 86.0C201.4 88.6 201.9 102.5 202.2 103.0C202.4 103.5 202.7 93.2 203.0 90.0C203.2 86.8 203.9 79.1 204.2 77.0C204.4 74.9 204.8 73.8 205.2 73.4C205.5 73.0 206.2 73.8 206.6 74.0C206.9 74.2 207.8 74.7 208.1 75.0C208.3 75.3 208.6 75.9 208.8 76.5C208.9 77.1 209.3 79.1 209.6 80.0C209.8 80.9 210.2 83.5 210.5 83.8C210.8 84.1 211.7 82.9 212.1 82.5C212.4 82.1 213.1 80.8 213.5 80.8C213.8 80.8 214.9 82.3 215.1 82.5"/>
<polyline stroke="#0072BD" stroke-width="0.85" points="114.85,93.00 115.65,91.50 116.35,63.30 117.15,110.80 118.05,94.00 118.95,88.00 119.85,86.30 121.15,83.00 122.55,79.80 123.25,85.00 124.35,100.20 125.35,99.20 126.35,100.00 127.35,98.40 128.35,99.00 129.35,97.20 130.35,97.80 131.35,96.00 132.35,96.40 133.35,95.00 134.15,94.50 134.90,93.00 135.70,91.50 136.40,63.30 137.20,110.80 138.10,94.00 139.00,88.00 139.90,86.30 141.20,83.00 142.60,79.80 143.30,85.00 144.40,100.20 145.40,99.20 146.40,100.00 147.40,98.40 148.40,99.00 149.40,97.20 150.40,97.80 151.40,96.00 152.40,96.40 153.40,95.00 154.20,94.50 154.95,93.00 155.75,91.50 156.45,63.30 157.25,110.80 158.15,94.00 159.05,88.00 159.95,86.30 161.25,83.00 162.65,79.80 163.35,85.00 164.45,100.20 165.45,99.20 166.45,100.00 167.45,98.40 168.45,99.00 169.45,97.20 170.45,97.80 171.45,96.00 172.45,96.40 173.45,95.00 174.25,94.50 175.00,93.00 175.80,91.50 176.50,63.30 177.30,110.80 178.20,94.00 179.10,88.00 180.00,86.30 181.30,83.00 182.70,79.80 183.40,85.00 184.50,100.20 185.50,99.20 186.50,100.00 187.50,98.40 188.50,99.00 189.50,97.20 190.50,97.80 191.50,96.00 192.50,96.40 193.50,95.00 194.30,94.50 195.05,93.00 195.85,91.50 196.55,63.30 197.35,110.80 198.25,94.00 199.15,88.00 200.05,86.30 201.35,83.00 202.75,79.80 203.45,85.00 204.55,100.20 205.55,99.20 206.55,100.00 207.55,98.40 208.55,99.00 209.55,97.20 210.55,97.80 211.55,96.00 212.55,96.40 213.55,95.00 214.35,94.50"/>
</g>
<text x="118.00" y="124.5" text-anchor="middle" font-size="4.5" font-weight="bold" fill="#3a3a3a">200</text>
<path d="M118.00 118.5v-1.2" stroke="#a0a0a0" stroke-width="0.5"/>
<text x="148.40" y="124.5" text-anchor="middle" font-size="4.5" font-weight="bold" fill="#3a3a3a">201</text>
<path d="M148.40 118.5v-1.2" stroke="#a0a0a0" stroke-width="0.5"/>
<text x="178.80" y="124.5" text-anchor="middle" font-size="4.5" font-weight="bold" fill="#3a3a3a">202</text>
<path d="M178.80 118.5v-1.2" stroke="#a0a0a0" stroke-width="0.5"/>
<g fill="none" stroke="#EE1C25" stroke-width="1.95" stroke-dasharray="4 1.5">
<path d="M74.4 125.6L118 48.7"/>
<path d="M81 126L118 117.2"/>
<path d="M81 127.2V217.2Q81 218.6 79.6 218.6H75.8Q74.4 218.6 74.4 217.2V125.8H79.8Q81 125.8 81 127.2"/>
</g>
<rect x="201" y="216.6" width="66" height="19.8" fill="#fff" stroke="#7a7a7a" stroke-width="0.8"/>
<path d="M203.2 222.4H219.8" stroke="#0072BD" stroke-width="0.6" opacity="0.5"/>
<path d="M203.2 231.6H219.8" stroke="#DB5417" stroke-width="0.6" opacity="0.5"/>
<text x="221.80" y="225.10" text-anchor="start" font-size="7.5" font-weight="bold" fill="#1a1a1a" stroke="#1a1a1a" stroke-width="0.28" >ECG</text>
<text x="221.80" y="234.40" text-anchor="start" font-size="7.5" font-weight="bold" fill="#1a1a1a" stroke="#1a1a1a" stroke-width="0.28" >Microphone</text>
<rect x="268" y="265.4" width="1" height="2.6" fill="#bdbdbd"/>
<text x="15.50" y="22.40" text-anchor="start" font-size="26" font-weight="normal" fill="#111"  >(a)</text>
<rect x="306.5" y="38.5" width="231.0" height="201.0" fill="none" stroke="#a0a0a0" stroke-width="1"/>
<path d="M306.50 239.5v-2.3M306.50 38.5v2.3" stroke="#a0a0a0" stroke-width="0.8"/>
<text x="306.50" y="251.60" text-anchor="middle" font-size="8.25" font-weight="bold" fill="#1a1a1a" stroke="#1a1a1a" stroke-width="0.28" >0</text>
<path d="M345.00 239.5v-2.3M345.00 38.5v2.3" stroke="#a0a0a0" stroke-width="0.8"/>
<text x="345.00" y="251.60" text-anchor="middle" font-size="8.25" font-weight="bold" fill="#1a1a1a" stroke="#1a1a1a" stroke-width="0.28" >200</text>
<path d="M383.50 239.5v-2.3M383.50 38.5v2.3" stroke="#a0a0a0" stroke-width="0.8"/>
<text x="383.50" y="251.60" text-anchor="middle" font-size="8.25" font-weight="bold" fill="#1a1a1a" stroke="#1a1a1a" stroke-width="0.28" >400</text>
<path d="M422.00 239.5v-2.3M422.00 38.5v2.3" stroke="#a0a0a0" stroke-width="0.8"/>
<text x="422.00" y="251.60" text-anchor="middle" font-size="8.25" font-weight="bold" fill="#1a1a1a" stroke="#1a1a1a" stroke-width="0.28" >600</text>
<path d="M460.50 239.5v-2.3M460.50 38.5v2.3" stroke="#a0a0a0" stroke-width="0.8"/>
<text x="460.50" y="251.60" text-anchor="middle" font-size="8.25" font-weight="bold" fill="#1a1a1a" stroke="#1a1a1a" stroke-width="0.28" >800</text>
<path d="M499.00 239.5v-2.3M499.00 38.5v2.3" stroke="#a0a0a0" stroke-width="0.8"/>
<text x="499.00" y="251.60" text-anchor="middle" font-size="8.25" font-weight="bold" fill="#1a1a1a" stroke="#1a1a1a" stroke-width="0.28" >1000</text>
<path d="M537.50 239.5v-2.3M537.50 38.5v2.3" stroke="#a0a0a0" stroke-width="0.8"/>
<text x="537.50" y="251.60" text-anchor="middle" font-size="8.25" font-weight="bold" fill="#1a1a1a" stroke="#1a1a1a" stroke-width="0.28" >1200</text>
<path d="M306.5 239.50h2.3M537.5 239.50h-2.3" stroke="#a0a0a0" stroke-width="0.8"/>
<text x="302.90" y="242.90" text-anchor="end" font-size="8.25" font-weight="bold" fill="#1a1a1a" stroke="#1a1a1a" stroke-width="0.28" >20</text>
<path d="M306.5 208.58h2.3M537.5 208.58h-2.3" stroke="#a0a0a0" stroke-width="0.8"/>
<text x="302.90" y="211.98" text-anchor="end" font-size="8.25" font-weight="bold" fill="#1a1a1a" stroke="#1a1a1a" stroke-width="0.28" >40</text>
<path d="M306.5 177.65h2.3M537.5 177.65h-2.3" stroke="#a0a0a0" stroke-width="0.8"/>
<text x="302.90" y="181.05" text-anchor="end" font-size="8.25" font-weight="bold" fill="#1a1a1a" stroke="#1a1a1a" stroke-width="0.28" >60</text>
<path d="M306.5 146.73h2.3M537.5 146.73h-2.3" stroke="#a0a0a0" stroke-width="0.8"/>
<text x="302.90" y="150.13" text-anchor="end" font-size="8.25" font-weight="bold" fill="#1a1a1a" stroke="#1a1a1a" stroke-width="0.28" >80</text>
<path d="M306.5 115.81h2.3M537.5 115.81h-2.3" stroke="#a0a0a0" stroke-width="0.8"/>
<text x="302.90" y="119.21" text-anchor="end" font-size="8.25" font-weight="bold" fill="#1a1a1a" stroke="#1a1a1a" stroke-width="0.28" >100</text>
<path d="M306.5 84.88h2.3M537.5 84.88h-2.3" stroke="#a0a0a0" stroke-width="0.8"/>
<text x="302.90" y="88.28" text-anchor="end" font-size="8.25" font-weight="bold" fill="#1a1a1a" stroke="#1a1a1a" stroke-width="0.28" >120</text>
<path d="M306.5 53.96h2.3M537.5 53.96h-2.3" stroke="#a0a0a0" stroke-width="0.8"/>
<text x="302.90" y="57.36" text-anchor="end" font-size="8.25" font-weight="bold" fill="#1a1a1a" stroke="#1a1a1a" stroke-width="0.28" >140</text>
<text x="422.00" y="35.20" text-anchor="middle" font-size="8.25" font-weight="bold" fill="#1a1a1a" stroke="#1a1a1a" stroke-width="0.28" >Blood pressure</text>
<text x="422.00" y="263.00" text-anchor="middle" font-size="8.25" font-weight="bold" fill="#1a1a1a" stroke="#1a1a1a" stroke-width="0.28" >time (sec)</text>
<text x="0.00" y="0.00" text-anchor="middle" font-size="8.25" font-weight="bold" fill="#1a1a1a" stroke="#1a1a1a" stroke-width="0.28" transform="translate(285.3 139.2) rotate(-90)">mmHg</text>
<path d="M307.0 140.3C307.5 140.1 309.1 139.2 310.2 139.3C311.3 139.4 312.6 140.3 313.8 141.0C315.0 141.7 316.3 143.6 317.5 143.6C318.7 143.6 319.9 141.7 321.1 141.0C322.3 140.3 323.5 139.6 324.7 139.5C325.9 139.4 327.3 140.4 328.4 140.7C329.5 141.0 330.2 141.4 331.3 141.3C332.4 141.2 333.7 140.5 334.9 140.3C336.1 140.1 337.3 139.9 338.5 140.0C339.7 140.1 341.0 140.5 342.2 141.0C343.4 141.5 344.6 142.9 345.8 143.2C347.0 143.4 348.3 142.6 349.5 142.5C350.7 142.4 352.0 142.8 353.1 142.7C354.2 142.6 355.1 142.1 356.0 141.7C356.9 141.3 357.5 140.1 358.2 140.3C358.9 140.6 359.4 142.9 360.4 143.2C361.4 143.5 362.8 142.4 364.0 142.2C365.2 141.9 366.4 141.5 367.6 141.7C368.8 141.9 370.0 143.0 371.3 143.2C372.6 143.4 374.2 142.7 375.6 142.7C377.0 142.7 378.2 143.0 379.4 143.2C380.6 143.4 381.8 143.7 383.0 143.9C384.2 144.1 385.5 144.7 386.6 144.6C387.7 144.5 388.5 143.8 389.5 143.2C390.5 142.5 391.5 140.8 392.5 140.7C393.5 140.6 394.3 142.4 395.4 142.7C396.5 143.0 397.8 142.3 399.0 142.7C400.2 143.1 401.5 144.9 402.6 145.1C403.7 145.3 404.4 144.0 405.5 143.9C406.6 143.8 408.0 145.0 409.2 144.6C410.4 144.2 411.7 141.7 412.8 141.3C413.9 141.0 414.7 142.2 415.7 142.5C416.7 142.8 417.5 143.2 418.6 143.2C419.7 143.2 421.1 142.7 422.3 142.7C423.5 142.7 424.7 142.9 425.9 143.2C427.1 143.5 428.4 144.2 429.5 144.6C430.6 145.0 431.4 145.6 432.5 145.4C433.6 145.2 434.9 143.8 436.1 143.6C437.3 143.4 438.5 144.0 439.7 144.2C440.9 144.4 442.3 144.6 443.4 144.6C444.5 144.6 445.2 144.1 446.3 143.9C447.4 143.7 448.4 143.3 449.9 143.2C451.4 143.1 453.7 143.1 455.5 143.2C457.3 143.2 459.1 143.4 460.9 143.5C462.7 143.6 464.6 143.6 466.4 143.5C468.2 143.4 470.1 143.4 471.8 143.2C473.5 143.0 475.2 142.8 476.4 142.3C477.6 141.9 478.2 140.7 479.1 140.5C480.0 140.3 480.9 140.4 481.8 141.0C482.7 141.6 483.4 143.4 484.5 144.1C485.6 144.8 487.0 145.4 488.2 145.4C489.4 145.4 490.6 144.6 491.8 144.1C493.0 143.6 494.1 142.6 495.5 142.3C496.9 142.0 498.6 142.3 500.0 142.3C501.4 142.3 502.5 142.2 503.6 142.3C504.7 142.5 505.3 143.2 506.4 143.2C507.5 143.2 508.8 142.7 510.0 142.3C511.2 141.9 512.4 141.1 513.6 141.0C514.8 140.9 516.1 141.4 517.3 141.7C518.5 142.0 519.7 142.8 520.9 142.8C522.1 142.8 523.3 142.0 524.5 141.7C525.7 141.4 527.0 141.1 528.2 141.0C529.4 140.9 530.6 141.7 531.8 141.4C533.0 141.2 534.4 139.8 535.5 139.5C536.6 139.2 537.8 139.8 538.2 139.9" fill="none" stroke="#0072BD" stroke-width="2.4" stroke-linejoin="round" stroke-linecap="round"/>
<path d="M307.0 65.2C307.1 65.9 306.8 68.7 307.3 69.5C307.8 70.3 309.0 69.7 310.2 70.3C311.4 70.9 313.2 72.3 314.5 73.2C315.8 74.1 317.0 75.8 318.2 75.8C319.4 75.8 320.6 74.1 321.8 73.2C323.0 72.3 324.3 70.5 325.5 70.3C326.7 70.1 328.1 71.8 329.1 72.2C330.1 72.6 330.5 73.0 331.3 72.7C332.1 72.5 333.1 70.8 334.2 70.7C335.3 70.6 336.6 72.1 337.8 72.2C339.0 72.3 340.3 71.2 341.5 71.4C342.7 71.6 343.8 72.7 345.1 73.2C346.4 73.7 348.2 74.4 349.5 74.6C350.8 74.8 351.8 74.8 353.1 74.6C354.4 74.4 356.3 73.5 357.5 73.6C358.7 73.7 359.5 74.5 360.4 75.1C361.3 75.7 361.7 77.4 362.8 77.1C363.9 76.8 365.6 73.6 366.9 73.2C368.2 72.8 369.2 73.9 370.5 74.6C371.8 75.2 373.7 77.1 374.9 77.1C376.1 77.1 377.0 75.3 377.9 74.6C378.8 73.9 379.1 72.6 380.1 72.7C381.1 72.8 382.5 74.7 383.7 75.4C384.9 76.1 386.2 77.1 387.4 77.1C388.6 77.1 389.8 76.4 391.0 75.4C392.2 74.4 393.4 71.8 394.6 71.3C395.8 70.8 397.1 71.9 398.3 72.5C399.5 73.1 400.6 74.3 401.9 75.1C403.2 75.9 405.0 76.6 406.3 77.5C407.6 78.4 408.8 80.8 409.9 80.5C411.0 80.2 411.8 76.7 412.8 75.4C413.8 74.1 414.7 73.0 415.7 72.7C416.7 72.5 417.5 73.6 418.6 73.9C419.7 74.2 421.1 74.5 422.3 74.6C423.5 74.7 424.7 74.3 425.9 74.6C427.1 74.8 428.3 75.5 429.5 76.1C430.7 76.7 431.9 77.8 433.2 78.0C434.5 78.2 436.2 77.7 437.5 77.5C438.8 77.3 440.1 77.2 441.2 76.8C442.3 76.4 443.1 75.6 444.1 75.1C445.1 74.6 445.9 73.9 447.0 73.9C448.1 73.9 449.4 74.8 450.6 75.1C451.9 75.4 452.9 75.6 454.5 75.9C456.1 76.2 458.3 77.3 460.0 77.2C461.7 77.1 463.0 75.8 464.5 75.4C466.0 75.0 467.7 75.0 469.1 75.0C470.5 75.0 471.5 75.9 472.7 75.4C473.9 75.0 475.2 73.1 476.4 72.3C477.6 71.5 478.6 70.4 480.0 70.5C481.4 70.6 483.0 72.1 484.5 72.8C486.0 73.5 487.7 74.2 489.1 74.6C490.5 75.0 491.3 75.5 492.7 75.4C494.1 75.3 495.8 74.4 497.3 74.1C498.8 73.8 500.4 73.8 501.8 73.7C503.2 73.6 504.4 73.1 505.5 73.2C506.6 73.3 507.3 74.8 508.2 74.6C509.1 74.4 510.0 73.2 510.9 72.3C511.8 71.4 512.7 69.5 513.6 69.2C514.5 68.9 515.3 70.0 516.4 70.5C517.5 71.0 518.8 71.9 520.0 72.3C521.2 72.7 522.4 73.0 523.6 72.8C524.8 72.6 526.1 71.1 527.3 71.0C528.5 70.9 529.7 72.4 530.9 72.3C532.1 72.2 533.3 71.0 534.5 70.5C535.7 70.0 537.6 69.4 538.2 69.2" fill="none" stroke="#DB5417" stroke-width="2.4" stroke-linejoin="round" stroke-linecap="round"/>
<circle cx="306.5" cy="141" r="2.35" fill="#19F01E"/>
<circle cx="329.5" cy="142.5" r="2.35" fill="#19F01E"/>
<circle cx="352.7" cy="142.5" r="2.35" fill="#19F01E"/>
<circle cx="375.8" cy="142.5" r="2.35" fill="#19F01E"/>
<circle cx="399" cy="142.7" r="2.35" fill="#19F01E"/>
<circle cx="422.3" cy="142.7" r="2.35" fill="#19F01E"/>
<circle cx="445.5" cy="143.9" r="2.35" fill="#19F01E"/>
<circle cx="468.7" cy="143.7" r="2.35" fill="#19F01E"/>
<circle cx="492" cy="143.7" r="2.35" fill="#19F01E"/>
<circle cx="515.3" cy="143.7" r="2.35" fill="#19F01E"/>
<circle cx="538.5" cy="142.6" r="2.35" fill="#19F01E"/>
<circle cx="306.5" cy="69.5" r="2.35" fill="#0a0a0a"/>
<circle cx="329.5" cy="72.9" r="2.35" fill="#0a0a0a"/>
<circle cx="352.7" cy="74.2" r="2.35" fill="#0a0a0a"/>
<circle cx="375.8" cy="77.4" r="2.35" fill="#0a0a0a"/>
<circle cx="399" cy="72.7" r="2.35" fill="#0a0a0a"/>
<circle cx="422.3" cy="73.9" r="2.35" fill="#0a0a0a"/>
<circle cx="445.5" cy="73.9" r="2.35" fill="#0a0a0a"/>
<circle cx="468.7" cy="74.1" r="2.35" fill="#0a0a0a"/>
<circle cx="492" cy="74.1" r="2.35" fill="#0a0a0a"/>
<circle cx="515.3" cy="72.6" r="2.35" fill="#0a0a0a"/>
<circle cx="538.5" cy="69.5" r="2.35" fill="#0a0a0a"/>
<rect x="432" y="196" width="95.3" height="39.7" fill="#fff" stroke="#7a7a7a" stroke-width="0.8"/>
<path d="M434 200.8H451.8" stroke="#0072BD" stroke-width="1.8"/>
<path d="M434 210.6H451.8" stroke="#DB5417" stroke-width="1.8"/>
<circle cx="443.1" cy="220.7" r="2.0" fill="#19F01E"/>
<circle cx="443.1" cy="230.5" r="1.85" fill="#0a0a0a"/>
<text y="203.80" font-size="7.35" font-weight="bold" fill="#1a1a1a" stroke="#1a1a1a" stroke-width="0.28"><tspan x="453.4">DBP</tspan><tspan x="471.7">−</tspan><tspan x="479.8">Our device</tspan></text>
<text y="213.50" font-size="7.35" font-weight="bold" fill="#1a1a1a" stroke="#1a1a1a" stroke-width="0.28"><tspan x="453.4">SBP</tspan><tspan x="471.7">−</tspan><tspan x="479.8">Our device</tspan></text>
<text y="223.20" font-size="7.35" font-weight="bold" fill="#1a1a1a" stroke="#1a1a1a" stroke-width="0.28"><tspan x="453.4">DBP</tspan><tspan x="471.7">−</tspan><tspan x="479.8">Brachial cuff</tspan></text>
<text y="232.90" font-size="7.35" font-weight="bold" fill="#1a1a1a" stroke="#1a1a1a" stroke-width="0.28"><tspan x="453.4">SBP</tspan><tspan x="471.7">−</tspan><tspan x="479.8">Brachial cuff</tspan></text>
<text x="289.30" y="25.30" text-anchor="start" font-size="26.8" font-weight="normal" fill="#111"  >(b)</text>
</svg>
</body></html>
